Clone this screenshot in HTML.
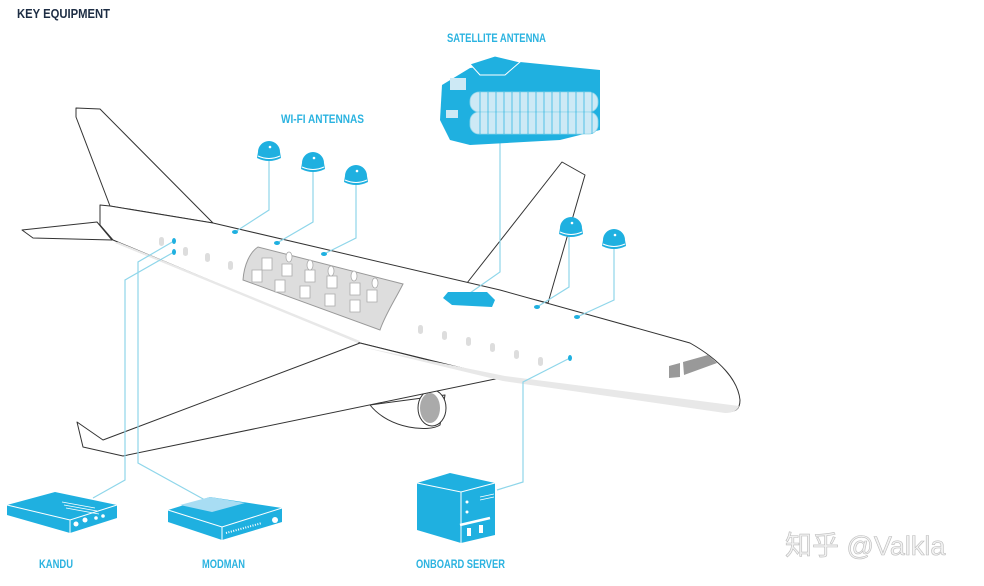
<!DOCTYPE html>
<html><head><meta charset="utf-8"><style>
html,body{margin:0;padding:0;background:#fff;}
svg{display:block;}
.lbl{font-family:"Liberation Sans",sans-serif;font-weight:bold;fill:#2bb3e0;font-size:12px;}
</style></head><body>
<svg width="984" height="586" viewBox="0 0 984 586" xmlns="http://www.w3.org/2000/svg">
<rect width="984" height="586" fill="#fff"/>
<text x="17" y="18" font-family="Liberation Sans,sans-serif" font-weight="bold" font-size="13" fill="#1d2d44" textLength="93" lengthAdjust="spacingAndGlyphs">KEY EQUIPMENT</text>
<text x="447" y="42" class="lbl" textLength="99" lengthAdjust="spacingAndGlyphs">SATELLITE ANTENNA</text>
<text x="281" y="123" class="lbl" textLength="83" lengthAdjust="spacingAndGlyphs">WI-FI ANTENNAS</text>
<text x="39" y="568" class="lbl" textLength="34" lengthAdjust="spacingAndGlyphs">KANDU</text>
<text x="202" y="568" class="lbl" textLength="43" lengthAdjust="spacingAndGlyphs">MODMAN</text>
<text x="416" y="568" class="lbl" textLength="89" lengthAdjust="spacingAndGlyphs">ONBOARD SERVER</text>

<g fill="#fff" stroke="#333" stroke-width="1" stroke-linejoin="round">
<polygon points="76,108 100,109 213,223 110,206 76,117"/>
<polygon points="467,283 562,162 585,175 548,303"/>
<polygon points="22,230 97,222 112,240 33,238"/>
<path d="M100,205 L110,206 L213,223 L500,290 L690,343 C720,360 738,380 740,400 C740,410 735,412 725,412 L503,378 L360,343 L113,240 L100,225 Z"/>
<path d="M370,405 C390,430 430,432 440,425 L445,395 Z" />
<ellipse cx="432" cy="408" rx="14" ry="18"/>
<polygon points="360,343 103,440 77,422 83,447 123,456 500,378"/>
</g>
<ellipse cx="430" cy="408" rx="10" ry="15" fill="#aaa"/>
<path d="M362,347 L503,381 L725,413 C733,413 738,410 739,406 L505,376 Z" fill="#e8e8e8"/>
<path d="M115,243 L358,343 L360,341 L118,242Z" fill="#e8e8e8"/>
<polygon points="669,366 680,363 680,377 669,378" fill="#999"/>
<polygon points="683,362 708,355 717,363 684,375" fill="#999"/>
<path d="M243,280 C244,265 250,252 258,247 L403,284 C395,300 385,315 380,330 Z" fill="#ddd" stroke="#999" stroke-width="1"/>
<g fill="#fff" stroke="#aaa" stroke-width="0.8">
<path d="M262,258 h10 v12 h-10z M282,264 h10 v12 h-10z M305,270 h10 v12 h-10z M327,276 h10 v12 h-10z M350,283 h10 v12 h-10z M252,270 h10 v12 h-10z M275,280 h10 v12 h-10z M300,286 h10 v12 h-10z M325,294 h10 v12 h-10z M350,300 h10 v12 h-10z M367,290 h10 v12 h-10z"/>
<ellipse cx="289" cy="257" rx="3" ry="5"/><ellipse cx="310" cy="265" rx="3" ry="5"/><ellipse cx="331" cy="271" rx="3" ry="5"/><ellipse cx="354" cy="276" rx="3" ry="5"/><ellipse cx="375" cy="283" rx="3" ry="5"/>
</g>
<g fill="#ddd">
<rect x="159" y="237" width="5" height="9" rx="2.5"/><rect x="183" y="247" width="5" height="9" rx="2.5"/><rect x="205" y="253" width="5" height="9" rx="2.5"/><rect x="228" y="261" width="5" height="9" rx="2.5"/>
<rect x="418" y="325" width="5" height="9" rx="2.5"/><rect x="442" y="331" width="5" height="9" rx="2.5"/><rect x="466" y="337" width="5" height="9" rx="2.5"/><rect x="490" y="343" width="5" height="9" rx="2.5"/><rect x="514" y="350" width="5" height="9" rx="2.5"/><rect x="538" y="357" width="5" height="9" rx="2.5"/>
</g>
<g fill="none" stroke="#8fd6ea" stroke-width="1.2">
<path d="M269,160 V210 L235,232"/>
<path d="M313,171 V222 L277,243"/>
<path d="M356,184 V238 L324,254"/>
<path d="M569,236 V287 L537,307"/>
<path d="M614,248 V300 L577,317"/>
<path d="M500,140 V272 L470,293"/>
<path d="M174,241 L138,262 V463 L205,500"/>
<path d="M174,252 L125,280 V480 L93,498"/>
<path d="M570,358 L523,382 V482 L497,490"/>
</g>
<g fill="#1fb0e0">
<ellipse cx="235" cy="232" rx="3" ry="2"/><ellipse cx="277" cy="243" rx="3" ry="2"/><ellipse cx="324" cy="254" rx="3" ry="2"/>
<ellipse cx="537" cy="307" rx="3" ry="2"/><ellipse cx="577" cy="317" rx="3" ry="2"/><ellipse cx="570" cy="358" rx="2" ry="3"/>
<ellipse cx="174" cy="241" rx="2" ry="3"/><ellipse cx="174" cy="252" rx="2" ry="3"/>
<polygon points="448,292 487,292 495,300 492,307 452,305 443,298"/>
</g>
<g fill="#1fb0e0">
<g transform="translate(269,150)"><path d="M-11,2 A11,11 0 0 1 11,2 L12,8 Q0,14 -12,8Z"/><path d="M-11,6 Q0,11 11,6" stroke="#fff" stroke-width="1" fill="none"/><circle cx="1" cy="-3" r="1.3" fill="#fff"/></g>
<g transform="translate(313,161)"><path d="M-11,2 A11,11 0 0 1 11,2 L12,8 Q0,14 -12,8Z"/><path d="M-11,6 Q0,11 11,6" stroke="#fff" stroke-width="1" fill="none"/><circle cx="1" cy="-3" r="1.3" fill="#fff"/></g>
<g transform="translate(356,174)"><path d="M-11,2 A11,11 0 0 1 11,2 L12,8 Q0,14 -12,8Z"/><path d="M-11,6 Q0,11 11,6" stroke="#fff" stroke-width="1" fill="none"/><circle cx="1" cy="-3" r="1.3" fill="#fff"/></g>
<g transform="translate(571,226)"><path d="M-11,2 A11,11 0 0 1 11,2 L12,8 Q0,14 -12,8Z"/><path d="M-11,6 Q0,11 11,6" stroke="#fff" stroke-width="1" fill="none"/><circle cx="1" cy="-3" r="1.3" fill="#fff"/></g>
<g transform="translate(614,238)"><path d="M-11,2 A11,11 0 0 1 11,2 L12,8 Q0,14 -12,8Z"/><path d="M-11,6 Q0,11 11,6" stroke="#fff" stroke-width="1" fill="none"/><circle cx="1" cy="-3" r="1.3" fill="#fff"/></g>
</g>
<g>
<polygon points="442,85 470,68 520,62 560,66 600,70 600,130 560,140 470,145 450,140 440,120" fill="#1fb0e0"/>
<polygon points="470,64 495,56 520,62 505,75 480,75" fill="#1fb0e0" stroke="#fff" stroke-width="1"/>
<g fill="#cde9f5" stroke="#8fd6ea" stroke-width="0.8">
<rect x="470" y="92" width="128" height="20" rx="9"/>
<rect x="470" y="112" width="128" height="22" rx="9"/>
</g>
<g stroke="#1fb0e0" stroke-width="0.7" fill="none">
<path d="M480,92v42M488,92v42M496,92v42M504,92v42M512,92v42M520,92v42M528,92v42M536,92v42M544,92v42M552,92v42M560,92v42M568,92v42M576,92v42M584,92v42M592,92v42"/>
</g>
<rect x="450" y="78" width="16" height="12" fill="#cde9f5"/>
<rect x="446" y="110" width="12" height="8" fill="#cde9f5"/>
</g>
<g>
<polygon points="7,505 55,492 117,505 117,518 70,533 7,515" fill="#1fb0e0"/>
<path d="M7,505 L70,520 L117,505 M70,520 V533" stroke="#fff" stroke-width="1" fill="none"/>
<path d="M62,502 L95,508 M64,505 L97,511 M66,508 L99,514" stroke="#fff" stroke-width="0.8"/>
<circle cx="76" cy="524" r="2.5" fill="#fff"/><circle cx="85" cy="520" r="2.5" fill="#fff"/><circle cx="96" cy="518" r="1.8" fill="#fff"/><circle cx="103" cy="516" r="1.8" fill="#fff"/>
</g>
<g>
<polygon points="168,510 210,497 282,508 282,522 222,540 168,522" fill="#1fb0e0"/>
<polygon points="180,505 210,497 245,503 212,512" fill="#a8ddf3"/>
<path d="M168,510 L222,527 L282,508 M222,527 V540" stroke="#fff" stroke-width="1" fill="none"/>
<path d="M226,533 L262,523" stroke="#fff" stroke-width="2" stroke-dasharray="1,1.5"/>
<circle cx="275" cy="520" r="3" fill="#fff"/>
</g>
<g>
<polygon points="417,483 450,473 495,483 495,535 461,543 417,530" fill="#1fb0e0"/>
<path d="M417,483 L461,492 L495,483 M461,492 V543" stroke="#fff" stroke-width="1" fill="none"/>
<circle cx="467" cy="502" r="1.5" fill="#fff"/><circle cx="467" cy="512" r="1.5" fill="#fff"/>
<path d="M460,525 L490,518" stroke="#fff" stroke-width="2.5"/>
<rect x="467" y="528" width="4" height="8" fill="#fff"/><rect x="479" y="525" width="4" height="8" fill="#fff"/>
<path d="M480,497 L494,494 M480,500 L494,497" stroke="#fff" stroke-width="0.8"/>
</g>
<text x="785" y="555" font-family="Liberation Sans, Noto Sans CJK SC, sans-serif" font-size="27" fill="#f2f2f2" stroke="#bbb" stroke-width="0.6">知乎 @Valkla</text>
</svg>
</body></html>
